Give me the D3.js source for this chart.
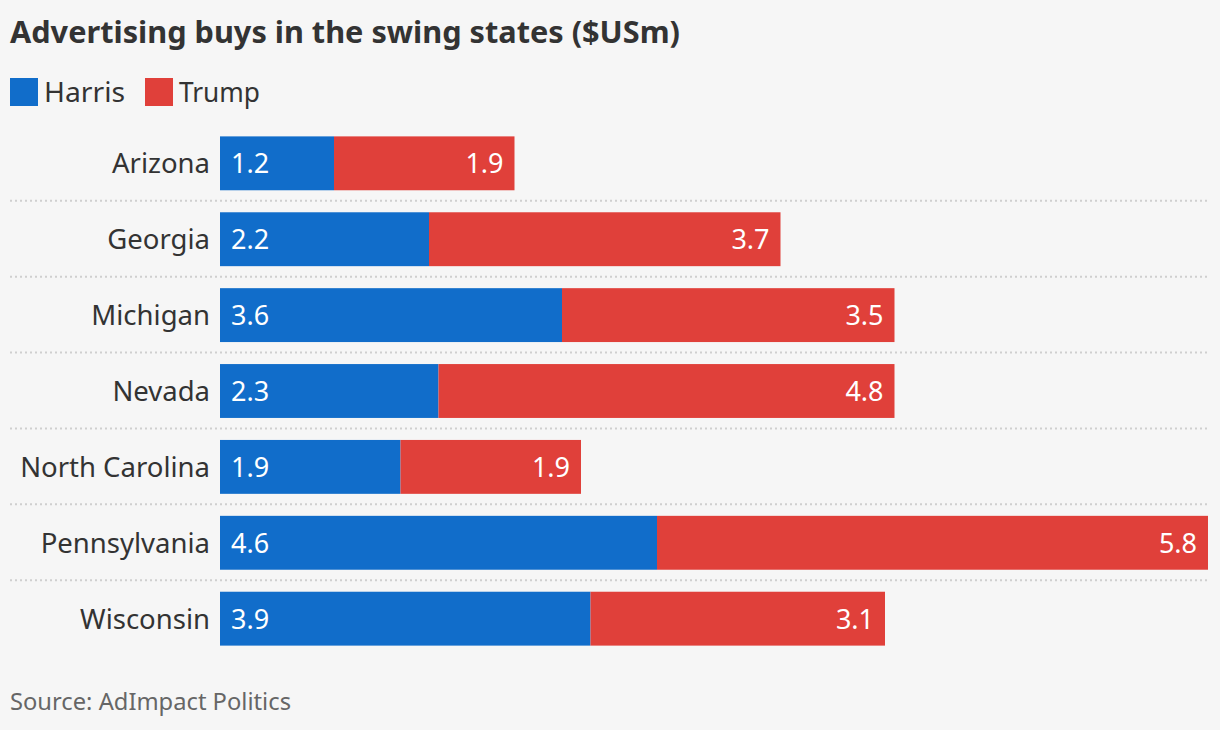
<!DOCTYPE html>
<html>
<head>
<meta charset="utf-8">
<script src="https://cdn.jsdelivr.net/npm/d3@7"></script>
<style>
  body { margin: 0; background: #f6f6f6; }
  svg { display: block; }
  text { font-family: "Noto Sans", "DejaVu Sans", sans-serif; }
</style>
</head>
<body>
<div id="chart-area"></div>
<script>
var states = ["Arizona", "Georgia", "Michigan", "Nevada", "North Carolina", "Pennsylvania", "Wisconsin"];
var harris = [1.2, 2.2, 3.6, 2.3, 1.9, 4.6, 3.9];
var trump = [1.9, 3.7, 3.5, 4.8, 1.9, 5.8, 3.1];
var seriesNames = ["Harris", "Trump"];
var colours = ["#116dca", "#e0403a"];

var width = 1220, height = 730;

var svg = d3.select("#chart-area").append("svg")
    .attr("width", width)
    .attr("height", height);

svg.append("rect").attr("width", width).attr("height", height).attr("fill", "#f6f6f6");

// title
svg.append("text")
    .attr("x", 10).attr("y", 43)
    .attr("font-size", 30).attr("font-weight", "bold")
    .attr("fill", "#333")
    .attr("textLength", 670)
    .attr("lengthAdjust", "spacingAndGlyphs")
    .text("Advertising buys in the swing states ($USm)");

// legend
var legend = svg.selectAll(".legend")
    .data(seriesNames)
    .enter().append("g")
    .attr("transform", (d, i) => "translate(" + [10, 145][i] + ",78)");
legend.append("rect")
    .attr("width", 28).attr("height", 28)
    .attr("fill", (d, i) => colours[i]);
legend.append("text")
    .attr("x", 34)
    .attr("y", 24)
    .attr("font-size", 28)
    .attr("fill", "#333")
    .attr("textLength", 81)
    .attr("lengthAdjust", "spacingAndGlyphs")
    .text(d => d);

var data = states.map((s, i) => ({state: s, harris: harris[i], trump: trump[i]}));

var x = d3.scaleLinear()
    .domain([0, d3.max(data, d => d.harris + d.trump)])
    .range([220, 1208]);

var y = d3.scaleBand()
    .domain(states)
    .range([125, 657])
    .paddingInner(0.29)
    .paddingOuter(0.15);

// dotted separators between rows
svg.selectAll(".sep")
    .data(states.slice(1))
    .enter().append("line")
    .attr("x1", 10).attr("x2", 1208)
    .attr("y1", d => y(d) - y.step() * y.paddingInner() / 2 - 0.5)
    .attr("y2", d => y(d) - y.step() * y.paddingInner() / 2 - 0.5)
    .attr("stroke", "#cfcfcf")
    .attr("stroke-width", 2)
    .attr("stroke-dasharray", "2,3");

var rows = svg.selectAll(".row")
    .data(data)
    .enter().append("g")
    .attr("transform", d => "translate(0," + y(d.state) + ")");

rows.append("rect")
    .attr("x", x(0))
    .attr("width", d => x(d.harris) - x(0))
    .attr("height", y.bandwidth())
    .attr("fill", colours[0]);

rows.append("rect")
    .attr("x", d => x(d.harris))
    .attr("width", d => x(d.harris + d.trump) - x(d.harris))
    .attr("height", y.bandwidth())
    .attr("fill", colours[1]);

rows.append("text")
    .attr("x", 210)
    .attr("y", y.bandwidth() / 2 + 10)
    .attr("text-anchor", "end")
    .attr("font-size", 27.5)
    .attr("fill", "#333")
    .text(d => d.state);

rows.append("text")
    .attr("x", x(0) + 11)
    .attr("y", y.bandwidth() / 2 + 10)
    .attr("font-size", 27)
    .attr("fill", "#fff")
    .text(d => d.harris.toFixed(1));

rows.append("text")
    .attr("x", d => x(d.harris + d.trump) - 11)
    .attr("y", y.bandwidth() / 2 + 10)
    .attr("text-anchor", "end")
    .attr("font-size", 27)
    .attr("fill", "#fff")
    .text(d => d.trump.toFixed(1));

// source
svg.append("text")
    .attr("x", 10).attr("y", 710)
    .attr("font-size", 24)
    .attr("fill", "#666")
    .attr("textLength", 281)
    .attr("lengthAdjust", "spacingAndGlyphs")
    .text("Source: AdImpact Politics");
</script>
</body>
</html>
